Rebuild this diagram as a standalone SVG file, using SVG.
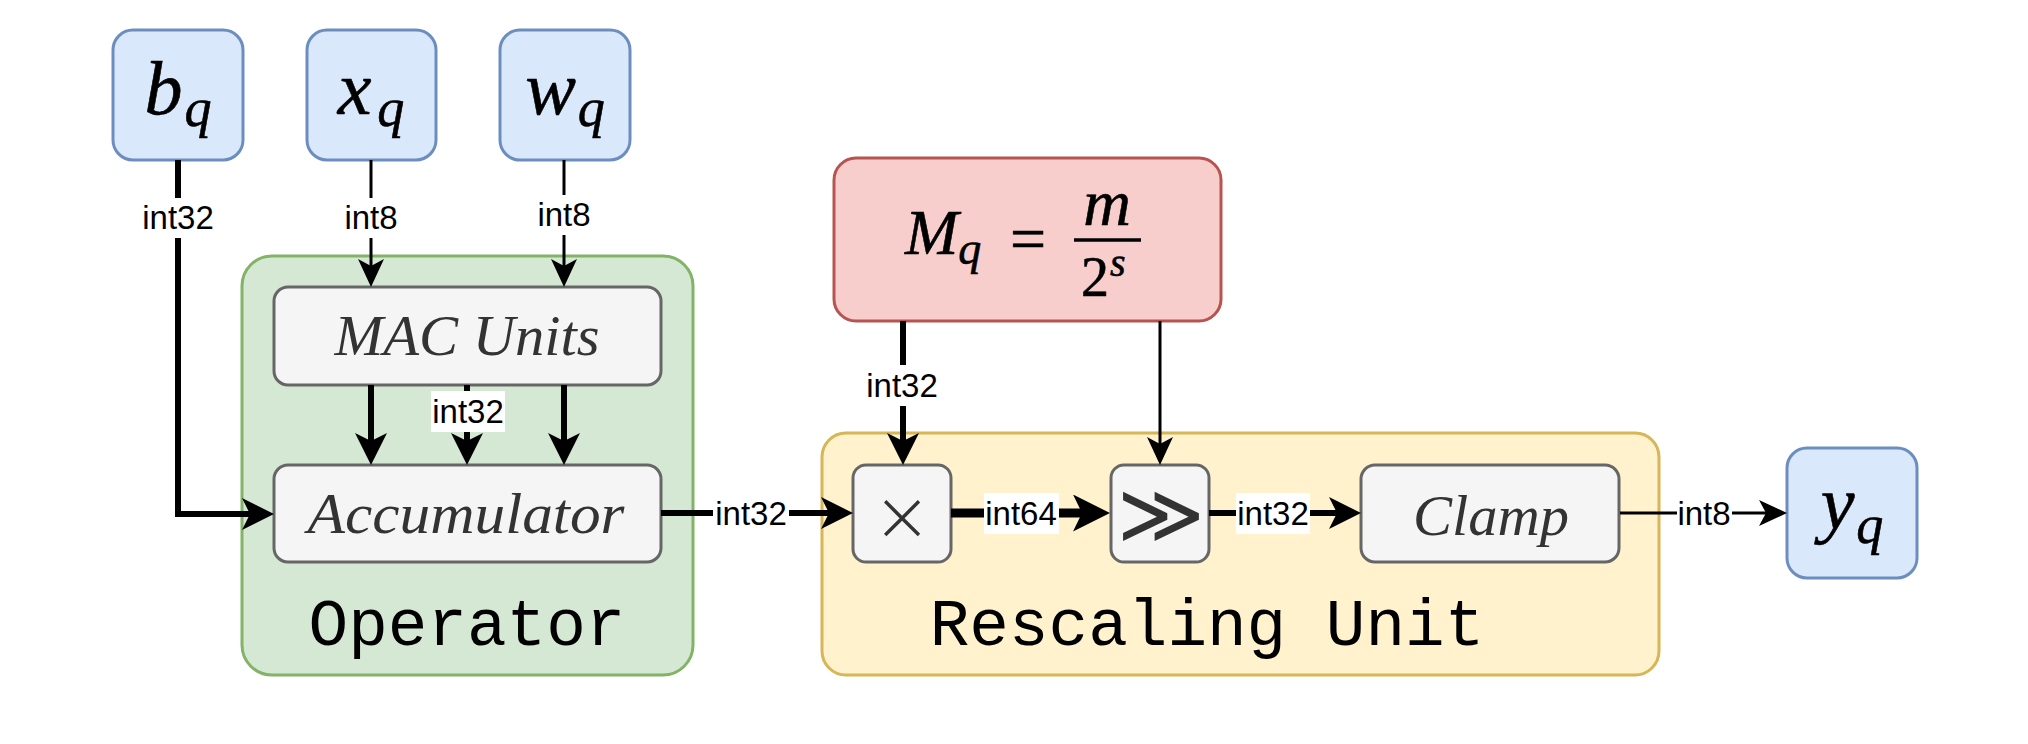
<svg xmlns="http://www.w3.org/2000/svg" width="2028" height="744" viewBox="0 0 2028 744">
<style>
.blue{fill:#dae8fc;stroke:#6c8ebf;stroke-width:3}
.green{fill:#d5e8d4;stroke:#82b366;stroke-width:3}
.red{fill:#f8cecc;stroke:#b85450;stroke-width:3}
.yellow{fill:#fff2cc;stroke:#d6b656;stroke-width:3}
.gray{fill:#f5f5f5;stroke:#666666;stroke-width:3}
.math{font-family:"Liberation Serif","Times New Roman",serif;font-style:italic;fill:#000;stroke:#000;stroke-width:0.6}
.mathr{font-family:"Liberation Serif","Times New Roman",serif;fill:#000;stroke:#000;stroke-width:0.6}
.box{font-family:"Liberation Serif","Times New Roman",serif;font-style:italic;font-size:56px;fill:#333333;text-anchor:middle}
.mono{font-family:"Liberation Mono","Courier New",monospace;font-size:66px;fill:#000;text-anchor:middle}
.sym{font-family:"DejaVu Sans ExtraLight","DejaVu Sans","Liberation Sans",sans-serif;font-weight:200;fill:#333333;text-anchor:middle}
.lbl{font-family:"Liberation Sans",Arial,sans-serif;font-size:33px;fill:#000;text-anchor:middle}
.lblbg{fill:#ffffff}
.edge{fill:none;stroke:#000;stroke-linejoin:miter}
.thin{stroke-width:3}
.thick{stroke-width:6}
.big{stroke-width:9}
</style>
<defs>
<marker id="aThin" markerUnits="userSpaceOnUse" viewBox="0 0 28 26" markerWidth="28" markerHeight="26" refX="7" refY="13" orient="auto"><path d="M0,0 L28,13 L0,26 L7,13 Z" fill="#000"/></marker>
<marker id="aThick" markerUnits="userSpaceOnUse" viewBox="0 0 32 32" markerWidth="32" markerHeight="32" refX="8" refY="16" orient="auto"><path d="M0,0 L32,16 L0,32 L8,16 Z" fill="#000"/></marker>
<marker id="aBig" markerUnits="userSpaceOnUse" viewBox="0 0 37 37" markerWidth="37" markerHeight="37" refX="9" refY="18.5" orient="auto"><path d="M0,0 L37,18.5 L0,37 L9,18.5 Z" fill="#000"/></marker>
</defs>
<rect width="2028" height="744" fill="#ffffff"/>

<g id="operator">
<rect class="green" x="242" y="256" width="451" height="419" rx="30"/>
<text class="mono" x="467" y="645">Operator</text>
</g>
<g id="rescaling-unit">
<rect class="yellow" x="822" y="433" width="837" height="242" rx="24"/>
<text class="mono" x="1207" y="645">Rescaling Unit</text>
</g>

<g id="bq">
<rect class="blue" x="113" y="30" width="130" height="130" rx="20"/>
<text class="math" x="178" y="114" font-size="76" text-anchor="middle">b<tspan font-size="54" dx="2" dy="12">q</tspan></text>
</g>
<g id="xq">
<rect class="blue" x="307" y="30" width="129" height="130" rx="20"/>
<text class="math" x="371" y="114" font-size="76" text-anchor="middle">x<tspan font-size="54" dx="6" dy="12">q</tspan></text>
</g>
<g id="wq">
<rect class="blue" x="500" y="30" width="130" height="130" rx="20"/>
<text class="math" x="565" y="114" font-size="76" text-anchor="middle">w<tspan font-size="54" dx="2" dy="12">q</tspan></text>
</g>
<g id="yq">
<rect class="blue" x="1787" y="448" width="130" height="130" rx="20"/>
<text class="math" x="1852" y="529" font-size="76" text-anchor="middle">y<tspan font-size="54" dx="2" dy="14">q</tspan></text>
</g>

<g id="mq">
<rect class="red" x="834" y="158" width="387" height="163" rx="22"/>
<text class="math" x="905" y="254" font-size="64">M<tspan font-size="46" dy="10">q</tspan></text>
<text class="mathr" x="1028" y="260" font-size="64" text-anchor="middle">=</text>
<text class="math" x="1107" y="225" font-size="66" text-anchor="middle">m</text>
<line x1="1074" y1="240" x2="1141" y2="240" stroke="#000" stroke-width="3.5"/>
<text class="mathr" x="1081" y="296" font-size="56">2</text>
<text class="math" x="1110" y="276" font-size="40">s</text>
</g>

<g id="mac">
<rect class="gray" x="274" y="287" width="387" height="98" rx="14"/>
<text class="box" x="467" y="355" textLength="265" lengthAdjust="spacingAndGlyphs">MAC Units</text>
</g>
<g id="accumulator">
<rect class="gray" x="274" y="465" width="387" height="97" rx="14"/>
<text class="box" x="466" y="533" textLength="317" lengthAdjust="spacingAndGlyphs">Accumulator</text>
</g>
<g id="multiply">
<rect class="gray" x="853" y="465" width="98" height="97" rx="13"/>
<text class="sym" x="902" y="540" font-size="70">×</text>
</g>
<g id="shift">
<rect class="gray" x="1111" y="465" width="98" height="97" rx="13"/>
<text class="sym" x="1161" y="543" font-size="84">≫</text>
</g>
<g id="clamp">
<rect class="gray" x="1361" y="465" width="258" height="97" rx="14"/>
<text class="box" x="1491" y="535" textLength="156" lengthAdjust="spacingAndGlyphs">Clamp</text>
</g>

<g id="connectors">
<path class="edge thick" d="M178,160 V514 H250" marker-end="url(#aThick)"/>
<path class="edge thin" d="M371,160 V266" marker-end="url(#aThin)"/>
<path class="edge thin" d="M564,160 V266" marker-end="url(#aThin)"/>
<path class="edge thick" d="M371,385 V441" marker-end="url(#aThick)"/>
<path class="edge thick" d="M467,385 V441" marker-end="url(#aThick)"/>
<path class="edge thick" d="M564,385 V441" marker-end="url(#aThick)"/>
<path class="edge thick" d="M661,513 H829" marker-end="url(#aThick)"/>
<path class="edge big" d="M951,513 H1082" marker-end="url(#aBig)"/>
<path class="edge thick" d="M1209,513 H1337" marker-end="url(#aThick)"/>
<path class="edge thin" d="M1620,513 H1766" marker-end="url(#aThin)"/>
<path class="edge thick" d="M903,321 V441" marker-end="url(#aThick)"/>
<path class="edge thin" d="M1160,321 V444" marker-end="url(#aThin)"/>

<rect class="lblbg" x="141" y="198" width="74" height="40"/>
<text class="lbl" x="178" y="229">int32</text>
<rect class="lblbg" x="344" y="198" width="54" height="40"/>
<text class="lbl" x="371" y="229">int8</text>
<rect class="lblbg" x="537" y="195" width="54" height="40"/>
<text class="lbl" x="564" y="226">int8</text>
<rect class="lblbg" x="431" y="391" width="74" height="41"/>
<text class="lbl" x="468" y="423">int32</text>
<rect class="lblbg" x="713" y="493" width="76" height="41"/>
<text class="lbl" x="751" y="525">int32</text>
<rect class="lblbg" x="865" y="365" width="75" height="41"/>
<text class="lbl" x="902" y="397">int32</text>
<rect class="lblbg" x="984" y="493" width="75" height="41"/>
<text class="lbl" x="1021" y="525">int64</text>
<rect class="lblbg" x="1236" y="493" width="74" height="41"/>
<text class="lbl" x="1273" y="525">int32</text>
<rect class="lblbg" x="1677" y="493" width="55" height="41"/>
<text class="lbl" x="1704" y="525">int8</text>
</g>
</svg>
